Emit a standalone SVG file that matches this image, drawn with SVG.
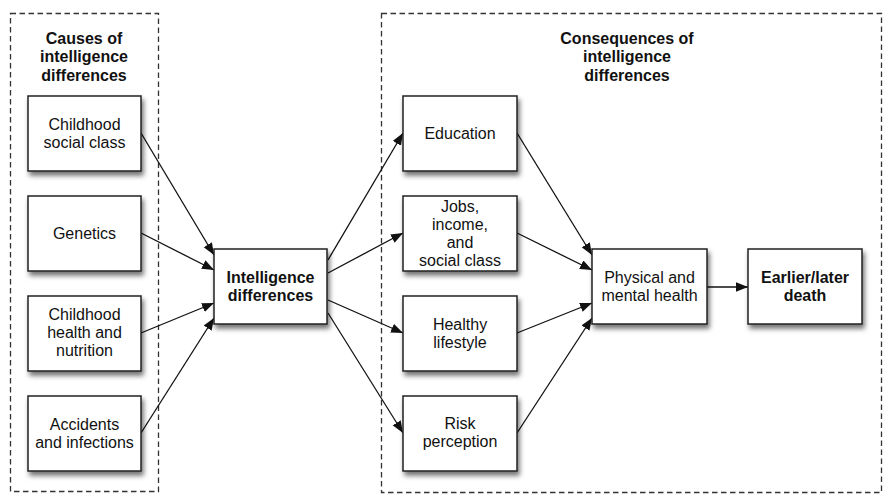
<svg xmlns="http://www.w3.org/2000/svg" width="890" height="504" viewBox="0 0 890 504">
<defs>
<style>
.grp{fill:none;stroke:#333;stroke-width:1.3;stroke-dasharray:5.5,3.5}
.box{fill:#fff;stroke:#222;stroke-width:1.5;filter:url(#sh)}
.t{font-family:"Liberation Sans",Arial,sans-serif;font-size:16px;fill:#111;text-anchor:middle}
.b{font-weight:bold}
.e{fill:none;stroke:#111;stroke-width:1.3;marker-end:url(#ah)}
</style>
<filter id="sh" x="-20%" y="-20%" width="150%" height="160%">
<feDropShadow dx="2" dy="4" stdDeviation="2.5" flood-color="#000" flood-opacity="0.55"/>
</filter>
<marker id="ah" markerUnits="userSpaceOnUse" markerWidth="13" markerHeight="10" refX="12" refY="4.75" orient="auto">
<path d="M0,0 L12,4.75 L0,9.5 z" fill="#111"/>
</marker>
</defs>
<rect width="890" height="504" fill="#fff"/>

<g id="causes-group">
<rect class="grp" x="10.5" y="13.5" width="148" height="478"/>
<text class="t b" x="84" y="43.5">Causes of</text>
<text class="t b" x="84" y="62">intelligence</text>
<text class="t b" x="84" y="80.5">differences</text>
</g>
<g id="consequences-group">
<rect class="grp" x="381.5" y="13.5" width="500" height="479"/>
<text class="t b" x="627" y="43.5">Consequences of</text>
<text class="t b" x="627" y="62">intelligence</text>
<text class="t b" x="627" y="80.5">differences</text>
</g>

<g id="connectors">
<line class="e" x1="141" y1="133" x2="214" y2="255"/>
<line class="e" x1="141" y1="233" x2="214" y2="270"/>
<line class="e" x1="141" y1="333" x2="214" y2="303"/>
<line class="e" x1="141" y1="433" x2="214" y2="318"/>
<line class="e" x1="328" y1="260" x2="403" y2="133"/>
<line class="e" x1="328" y1="273" x2="403" y2="233"/>
<line class="e" x1="328" y1="300" x2="403" y2="333"/>
<line class="e" x1="328" y1="313" x2="403" y2="433"/>
<line class="e" x1="517" y1="133" x2="592" y2="255"/>
<line class="e" x1="517" y1="233" x2="592" y2="270"/>
<line class="e" x1="517" y1="333" x2="592" y2="303"/>
<line class="e" x1="517" y1="433" x2="592" y2="318"/>
<line class="e" x1="707" y1="287" x2="748" y2="287"/>
</g>

<g id="childhood-social-class">
<rect class="box" x="28" y="96" width="113" height="75"/>
<text class="t" x="84.5" y="130">Childhood</text>
<text class="t" x="84.5" y="148">social class</text>
</g>
<g id="genetics">
<rect class="box" x="28" y="196" width="113" height="75"/>
<text class="t" x="84.5" y="239">Genetics</text>
</g>
<g id="childhood-health">
<rect class="box" x="28" y="296" width="113" height="75"/>
<text class="t" x="84.5" y="320">Childhood</text>
<text class="t" x="84.5" y="338">health and</text>
<text class="t" x="84.5" y="356">nutrition</text>
</g>
<g id="accidents">
<rect class="box" x="28" y="396" width="113" height="75"/>
<text class="t" x="84.5" y="430">Accidents</text>
<text class="t" x="84.5" y="448">and infections</text>
</g>

<g id="intelligence-differences">
<rect class="box" x="214" y="249" width="113" height="75"/>
<text class="t b" x="270.5" y="283">Intelligence</text>
<text class="t b" x="270.5" y="301">differences</text>
</g>

<g id="education">
<rect class="box" x="403" y="96" width="114" height="75"/>
<text class="t" x="460" y="139">Education</text>
</g>
<g id="jobs">
<rect class="box" x="403" y="196" width="114" height="75"/>
<text class="t" x="460" y="212">Jobs,</text>
<text class="t" x="460" y="230">income,</text>
<text class="t" x="460" y="248">and</text>
<text class="t" x="460" y="266">social class</text>
</g>
<g id="healthy-lifestyle">
<rect class="box" x="403" y="296" width="114" height="75"/>
<text class="t" x="460" y="330">Healthy</text>
<text class="t" x="460" y="348">lifestyle</text>
</g>
<g id="risk-perception">
<rect class="box" x="403" y="396" width="114" height="75"/>
<text class="t" x="460" y="429">Risk</text>
<text class="t" x="460" y="447">perception</text>
</g>

<g id="physical-mental-health">
<rect class="box" x="592" y="249" width="115" height="75"/>
<text class="t" x="649.5" y="283">Physical and</text>
<text class="t" x="649.5" y="301">mental health</text>
</g>
<g id="earlier-later-death">
<rect class="box" x="748" y="249" width="114" height="75"/>
<text class="t b" x="805" y="283">Earlier/later</text>
<text class="t b" x="805" y="301">death</text>
</g>
</svg>
